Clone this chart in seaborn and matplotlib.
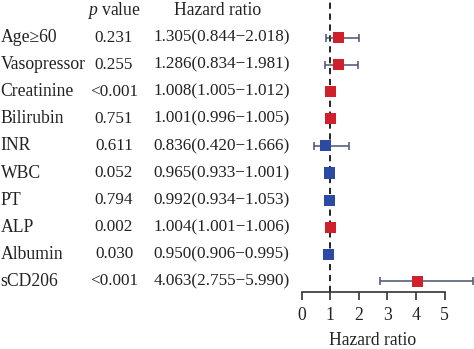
import matplotlib
matplotlib.use("Agg")
import matplotlib.pyplot as plt
import matplotlib.transforms as mtransforms
import numpy as np
import pandas as pd
import seaborn as sns

# Cox regression results
variables = ["Age\u226560", "Vasopressor", "Creatinine", "Bilirubin", "INR",
             "WBC", "PT", "ALP", "Albumin", "sCD206"]
p_values = ["0.231", "0.255", "<0.001", "0.751", "0.611",
            "0.052", "0.794", "0.002", "0.030", "<0.001"]
hr = [1.305, 1.286, 1.008, 1.001, 0.836, 0.965, 0.992, 1.004, 0.950, 4.063]
ci_low = [0.844, 0.834, 1.005, 0.996, 0.420, 0.933, 0.934, 1.001, 0.906, 2.755]
ci_high = [2.018, 1.981, 1.012, 1.005, 1.666, 1.001, 1.053, 1.006, 0.995, 5.990]
x_ticks = [0, 1, 2, 3, 4, 5]

df = pd.DataFrame({
    "variable": variables,
    "p": p_values,
    "hr": hr,
    "lo": ci_low,
    "hi": ci_high,
})
df["row"] = np.arange(len(df))
df["direction"] = np.where(df["hr"] >= 1, "up", "down")

sns.set_theme(style="white")
plt.rcParams["font.family"] = ["Liberation Serif", "DejaVu Serif"]
plt.rcParams["mathtext.fontset"] = "custom"
plt.rcParams["mathtext.it"] = "Liberation Serif:italic"
plt.rcParams["mathtext.rm"] = "Liberation Serif"

W, H, DPI = 474, 349, 100
fig = plt.figure(figsize=(W / DPI, H / DPI), dpi=DPI)

x0_px, unit_px = 301.5, 28.6
base_px = 292
ax = fig.add_axes([x0_px / W, (H - base_px) / H, (W - x0_px) / W, base_px / H])
xmax = (W - x0_px) / unit_px
ax.set_xlim(0, xmax)
row0, step = 37.5, 27.1
ax.set_ylim((base_px - row0) / step, -row0 / step)

ax.axvline(1, color="#222222", lw=1.4, ls=(0, (3.2, 2.4)), zorder=1)

err_color = "#4a5270"
ax.errorbar(df["hr"], df["row"],
            xerr=[df["hr"] - df["lo"], df["hi"] - df["hr"]],
            fmt="none", ecolor=err_color, elinewidth=1.1, capsize=2.8,
            capthick=1.1, zorder=2, clip_on=True)

sns.scatterplot(data=df, x="hr", y="row", hue="direction",
                palette={"up": "#d0202c", "down": "#2a4aa3"},
                marker="s", s=64, edgecolor="none", legend=False,
                ax=ax, zorder=3)

for s in ["top", "right", "left"]:
    ax.spines[s].set_visible(False)
ax.spines["bottom"].set_bounds(0, 5)
ax.spines["bottom"].set_color("#333333")
ax.spines["bottom"].set_linewidth(1.2)
fs = 12.7
fs_num = 12.3
tc = "#222222"
ax.set_xticks(x_ticks)
ax.set_xticklabels([str(t) for t in x_ticks], fontsize=fs, color=tc)
ax.tick_params(axis="x", bottom=True, length=6, width=1.2, color="#333333", pad=4.5)
ax.set_yticks([])
ax.set_xlabel("Hazard ratio", fontsize=fs, color=tc)
ax.xaxis.set_label_coords(2.5 / xmax, -0.136)
ax.set_ylabel("")
ax.patch.set_alpha(0)

# text columns on the left
tr = mtransforms.blended_transform_factory(fig.transFigure, ax.transData)
ax.text(114 / W, -1, "$p$ value", transform=tr, ha="center", va="center",
        fontsize=fs, color=tc, clip_on=False)
ax.text(218 / W, -1, "Hazard ratio", transform=tr, ha="center", va="center",
        fontsize=fs, color=tc, clip_on=False)
for i, row in df.iterrows():
    ax.text(0.5 / W, row["row"], row["variable"], transform=tr, ha="left",
            va="center", fontsize=fs, color=tc, clip_on=False)
    ax.text(114 / W, row["row"], row["p"], transform=tr, ha="center",
            va="center", fontsize=fs_num, color=tc, clip_on=False)
    label = f"{row['hr']:.3f}({row['lo']:.3f}\u2212{row['hi']:.3f})"
    ax.text(221.5 / W, row["row"], label, transform=tr, ha="center",
            va="center", fontsize=fs_num, color=tc, clip_on=False)

fig.savefig("out.png", dpi=DPI)
